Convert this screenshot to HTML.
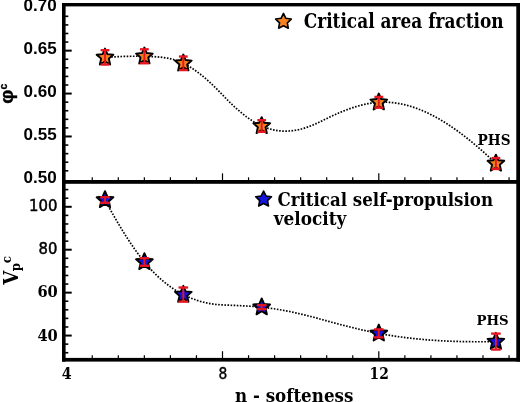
<!DOCTYPE html>
<html lang="en"><head><meta charset="utf-8"><title>Critical area fraction and self-propulsion velocity vs softness</title>
<style>html,body{margin:0;padding:0;background:#fff;}body{width:520px;height:402px;overflow:hidden;}svg{display:block;filter:blur(0.35px);}.ss{font-family:"Liberation Sans",sans-serif;font-weight:bold;}.dj{font-family:"DejaVu Sans","Liberation Sans",sans-serif;}.sf{font-family:"DejaVu Serif Condensed","DejaVu Serif","Liberation Serif",serif;font-weight:bold;font-stretch:condensed;}</style></head><body>
<svg width="520" height="402" viewBox="0 0 520 402">
<rect width="520" height="402" fill="#fff"/>
<g fill="#000">
<rect x="62.0" y="3.0" width="3.60" height="358.60"/>
<rect x="516.3" y="3.0" width="5.70" height="358.60"/>
<rect x="62.0" y="3.0" width="458.0" height="3.40"/>
<rect x="62.0" y="180.0" width="458.0" height="3.80"/>
<rect x="62.0" y="357.9" width="458.0" height="3.70"/>
</g>
<g stroke="#000">
<line x1="65.1" x2="68.3" y1="170.82" y2="170.82" stroke-width="1.6"/>
<line x1="65.1" x2="68.3" y1="162.23" y2="162.23" stroke-width="1.6"/>
<line x1="65.1" x2="68.3" y1="153.65" y2="153.65" stroke-width="1.6"/>
<line x1="65.1" x2="68.3" y1="145.07" y2="145.07" stroke-width="1.6"/>
<line x1="65.1" x2="71.69999999999999" y1="136.48" y2="136.48" stroke-width="2.0"/>
<line x1="65.1" x2="68.3" y1="127.90" y2="127.90" stroke-width="1.6"/>
<line x1="65.1" x2="68.3" y1="119.32" y2="119.32" stroke-width="1.6"/>
<line x1="65.1" x2="68.3" y1="110.74" y2="110.74" stroke-width="1.6"/>
<line x1="65.1" x2="68.3" y1="102.15" y2="102.15" stroke-width="1.6"/>
<line x1="65.1" x2="71.69999999999999" y1="93.57" y2="93.57" stroke-width="2.0"/>
<line x1="65.1" x2="68.3" y1="84.99" y2="84.99" stroke-width="1.6"/>
<line x1="65.1" x2="68.3" y1="76.40" y2="76.40" stroke-width="1.6"/>
<line x1="65.1" x2="68.3" y1="67.82" y2="67.82" stroke-width="1.6"/>
<line x1="65.1" x2="68.3" y1="59.24" y2="59.24" stroke-width="1.6"/>
<line x1="65.1" x2="71.69999999999999" y1="50.66" y2="50.66" stroke-width="2.0"/>
<line x1="65.1" x2="68.3" y1="42.07" y2="42.07" stroke-width="1.6"/>
<line x1="65.1" x2="68.3" y1="33.49" y2="33.49" stroke-width="1.6"/>
<line x1="65.1" x2="68.3" y1="24.91" y2="24.91" stroke-width="1.6"/>
<line x1="65.1" x2="68.3" y1="16.32" y2="16.32" stroke-width="1.6"/>
<line x1="65.1" x2="68.3" y1="189.63" y2="189.63" stroke-width="1.6"/>
<line x1="65.1" x2="68.3" y1="198.22" y2="198.22" stroke-width="1.6"/>
<line x1="65.1" x2="71.69999999999999" y1="206.80" y2="206.80" stroke-width="2.0"/>
<line x1="65.1" x2="68.3" y1="215.38" y2="215.38" stroke-width="1.6"/>
<line x1="65.1" x2="68.3" y1="223.97" y2="223.97" stroke-width="1.6"/>
<line x1="65.1" x2="68.3" y1="232.55" y2="232.55" stroke-width="1.6"/>
<line x1="65.1" x2="68.3" y1="241.14" y2="241.14" stroke-width="1.6"/>
<line x1="65.1" x2="71.69999999999999" y1="249.72" y2="249.72" stroke-width="2.0"/>
<line x1="65.1" x2="68.3" y1="258.30" y2="258.30" stroke-width="1.6"/>
<line x1="65.1" x2="68.3" y1="266.89" y2="266.89" stroke-width="1.6"/>
<line x1="65.1" x2="68.3" y1="275.47" y2="275.47" stroke-width="1.6"/>
<line x1="65.1" x2="68.3" y1="284.06" y2="284.06" stroke-width="1.6"/>
<line x1="65.1" x2="71.69999999999999" y1="292.64" y2="292.64" stroke-width="2.0"/>
<line x1="65.1" x2="68.3" y1="301.22" y2="301.22" stroke-width="1.6"/>
<line x1="65.1" x2="68.3" y1="309.81" y2="309.81" stroke-width="1.6"/>
<line x1="65.1" x2="68.3" y1="318.39" y2="318.39" stroke-width="1.6"/>
<line x1="65.1" x2="68.3" y1="326.98" y2="326.98" stroke-width="1.6"/>
<line x1="65.1" x2="71.69999999999999" y1="335.56" y2="335.56" stroke-width="2.0"/>
<line x1="65.1" x2="68.3" y1="344.14" y2="344.14" stroke-width="1.6"/>
<line x1="65.1" x2="68.3" y1="352.73" y2="352.73" stroke-width="1.6"/>
</g>
<g stroke="#000" stroke-width="1.2">
<line x1="92.25" x2="92.25" y1="358.4" y2="355.20"/>
<line x1="92.25" x2="92.25" y1="180.5" y2="177.30"/>
<line x1="118.30" x2="118.30" y1="358.4" y2="355.20"/>
<line x1="118.30" x2="118.30" y1="180.5" y2="177.30"/>
<line x1="144.35" x2="144.35" y1="358.4" y2="355.20"/>
<line x1="144.35" x2="144.35" y1="180.5" y2="177.30"/>
<line x1="170.40" x2="170.40" y1="358.4" y2="355.20"/>
<line x1="170.40" x2="170.40" y1="180.5" y2="177.30"/>
<line x1="196.45" x2="196.45" y1="358.4" y2="355.20"/>
<line x1="196.45" x2="196.45" y1="180.5" y2="177.30"/>
<line x1="222.50" x2="222.50" y1="358.4" y2="351.20"/>
<line x1="222.50" x2="222.50" y1="180.5" y2="173.30"/>
<line x1="248.55" x2="248.55" y1="358.4" y2="355.20"/>
<line x1="248.55" x2="248.55" y1="180.5" y2="177.30"/>
<line x1="274.60" x2="274.60" y1="358.4" y2="355.20"/>
<line x1="274.60" x2="274.60" y1="180.5" y2="177.30"/>
<line x1="300.65" x2="300.65" y1="358.4" y2="355.20"/>
<line x1="300.65" x2="300.65" y1="180.5" y2="177.30"/>
<line x1="326.70" x2="326.70" y1="358.4" y2="355.20"/>
<line x1="326.70" x2="326.70" y1="180.5" y2="177.30"/>
<line x1="352.75" x2="352.75" y1="358.4" y2="355.20"/>
<line x1="352.75" x2="352.75" y1="180.5" y2="177.30"/>
<line x1="378.80" x2="378.80" y1="358.4" y2="351.20"/>
<line x1="378.80" x2="378.80" y1="180.5" y2="173.30"/>
<line x1="404.85" x2="404.85" y1="358.4" y2="355.20"/>
<line x1="404.85" x2="404.85" y1="180.5" y2="177.30"/>
<line x1="430.90" x2="430.90" y1="358.4" y2="355.20"/>
<line x1="430.90" x2="430.90" y1="180.5" y2="177.30"/>
<line x1="456.95" x2="456.95" y1="358.4" y2="355.20"/>
<line x1="456.95" x2="456.95" y1="180.5" y2="177.30"/>
<line x1="483.00" x2="483.00" y1="358.4" y2="355.20"/>
<line x1="483.00" x2="483.00" y1="180.5" y2="177.30"/>
<line x1="509.05" x2="509.05" y1="358.4" y2="355.20"/>
<line x1="509.05" x2="509.05" y1="180.5" y2="177.30"/>
</g>
<text class="ss" x="23.5" y="11.04" font-size="15.7" textLength="33.2" lengthAdjust="spacingAndGlyphs">0.70</text>
<text class="ss" x="23.5" y="53.95" font-size="15.7" textLength="33.2" lengthAdjust="spacingAndGlyphs">0.65</text>
<text class="ss" x="23.5" y="96.87" font-size="15.7" textLength="33.2" lengthAdjust="spacingAndGlyphs">0.60</text>
<text class="ss" x="23.5" y="139.78" font-size="15.7" textLength="33.2" lengthAdjust="spacingAndGlyphs">0.55</text>
<text class="ss" x="23.5" y="183.40" font-size="15.7" textLength="33.2" lengthAdjust="spacingAndGlyphs">0.50</text>
<text class="dj" x="29" y="211.2" font-size="15.6" textLength="28.4" lengthAdjust="spacingAndGlyphs" stroke="#000" stroke-width="0.5">100</text>
<text class="dj" x="38.6" y="254.4" font-size="15.6" textLength="18.8" lengthAdjust="spacingAndGlyphs" stroke="#000" stroke-width="0.5">80</text>
<text class="sf" x="37.4" y="297.4" font-size="16.4" textLength="20.4" lengthAdjust="spacingAndGlyphs">60</text>
<text class="sf" x="37.4" y="340.6" font-size="16.4" textLength="20.4" lengthAdjust="spacingAndGlyphs">40</text>
<text class="sf" x="61.7" y="378.8" font-size="15.8" textLength="9.9" lengthAdjust="spacingAndGlyphs">4</text>
<text class="dj" x="218.6" y="378.5" font-size="15.6" textLength="8.8" lengthAdjust="spacingAndGlyphs" stroke="#000" stroke-width="0.4">8</text>
<text class="sf" x="369.6" y="378.6" font-size="16" textLength="19.3" lengthAdjust="spacingAndGlyphs">12</text>
<text class="sf" x="235" y="401.7" font-size="18.8" textLength="118.3" lengthAdjust="spacingAndGlyphs">n - softeness</text>
<text class="ss" transform="translate(12.8,103.8) rotate(-90) scale(1.12,1)" font-size="17.5" stroke="#000" stroke-width="0.4">φ</text>
<text class="ss" transform="translate(6.8,89.6) rotate(-90)" font-size="10.4" stroke="#000" stroke-width="0.35">c</text>
<text class="sf" transform="translate(18.0,284.8) rotate(-90)" font-size="20"><tspan>V</tspan><tspan dy="2" dx="-0.5" font-size="13">p</tspan><tspan dy="-8.7" font-size="13.4">c</tspan></text>
<path d="M105.00,57.40 L108.28,57.18 L111.57,56.98 L114.85,56.80 L118.14,56.65 L121.42,56.51 L124.71,56.41 L127.99,56.32 L131.28,56.26 L134.56,56.23 L137.85,56.22 L141.13,56.25 L144.42,56.30 L147.70,56.38 L150.99,56.51 L154.27,56.68 L157.56,56.92 L160.84,57.22 L164.13,57.61 L167.41,58.13 L170.70,58.82 L173.98,59.70 L177.27,60.78 L180.55,62.06 L183.84,63.56 L187.12,65.28 L190.41,67.21 L193.69,69.34 L196.98,71.65 L200.26,74.15 L203.55,76.81 L206.83,79.63 L210.12,82.60 L213.40,85.70 L216.69,88.92 L219.97,92.25 L223.26,95.68 L226.54,99.07 L229.83,102.34 L233.11,105.49 L236.39,108.50 L239.68,111.37 L242.96,114.08 L246.25,116.62 L249.53,118.99 L252.82,121.16 L256.10,123.13 L259.39,124.89 L262.67,126.43 L265.96,127.74 L269.24,128.83 L272.53,129.70 L275.81,130.36 L279.10,130.82 L282.38,131.07 L285.67,131.14 L288.95,131.02 L292.24,130.72 L295.52,130.24 L298.81,129.60 L302.09,128.79 L305.38,127.83 L308.66,126.72 L311.95,125.47 L315.23,124.08 L318.52,122.55 L321.80,120.92 L325.09,119.30 L328.37,117.72 L331.66,116.17 L334.94,114.68 L338.23,113.23 L341.51,111.85 L344.80,110.54 L348.08,109.30 L351.37,108.13 L354.65,107.05 L357.94,106.06 L361.22,105.17 L364.51,104.38 L367.79,103.70 L371.07,103.14 L374.36,102.70 L377.64,102.38 L380.93,102.20 L384.21,102.15 L387.50,102.23 L390.78,102.44 L394.07,102.78 L397.35,103.24 L400.64,103.83 L403.92,104.54 L407.21,105.36 L410.49,106.30 L413.78,107.35 L417.06,108.51 L420.35,109.78 L423.63,111.16 L426.92,112.64 L430.20,114.22 L433.49,115.90 L436.77,117.68 L440.06,119.55 L443.34,121.51 L446.63,123.57 L449.91,125.71 L453.20,127.93 L456.48,130.24 L459.77,132.62 L463.05,135.09 L466.34,137.63 L469.62,140.24 L472.91,142.93 L476.19,145.68 L479.48,148.50 L482.76,151.38 L486.05,154.32 L489.33,157.33 L492.62,160.39 L495.90,163.50" fill="none" stroke="#000" stroke-width="1.7" stroke-dasharray="1.6 1.5"/>
<path d="M105.00,200.00 L108.28,206.01 L111.57,211.90 L114.85,217.67 L118.14,223.30 L121.42,228.77 L124.71,234.09 L127.99,239.24 L131.28,244.20 L134.56,248.98 L137.85,253.54 L141.13,257.90 L144.42,262.02 L147.70,265.91 L150.99,269.57 L154.27,273.00 L157.56,276.21 L160.84,279.20 L164.13,281.97 L167.41,284.55 L170.70,286.95 L173.98,289.18 L177.27,291.24 L180.55,293.14 L183.84,294.87 L187.12,296.46 L190.41,297.89 L193.69,299.18 L196.98,300.32 L200.26,301.33 L203.55,302.21 L206.83,302.95 L210.12,303.58 L213.40,304.08 L216.69,304.47 L219.97,304.76 L223.26,304.93 L226.54,305.07 L229.83,305.21 L233.11,305.35 L236.39,305.49 L239.68,305.64 L242.96,305.80 L246.25,305.98 L249.53,306.18 L252.82,306.41 L256.10,306.67 L259.39,306.97 L262.67,307.30 L265.96,307.68 L269.24,308.10 L272.53,308.56 L275.81,309.06 L279.10,309.60 L282.38,310.18 L285.67,310.79 L288.95,311.43 L292.24,312.11 L295.52,312.82 L298.81,313.56 L302.09,314.33 L305.38,315.13 L308.66,315.96 L311.95,316.81 L315.23,317.68 L318.52,318.58 L321.80,319.50 L325.09,320.41 L328.37,321.32 L331.66,322.22 L334.94,323.11 L338.23,323.99 L341.51,324.85 L344.80,325.70 L348.08,326.54 L351.37,327.36 L354.65,328.16 L357.94,328.94 L361.22,329.71 L364.51,330.45 L367.79,331.17 L371.07,331.86 L374.36,332.53 L377.64,333.18 L380.93,333.80 L384.21,334.39 L387.50,334.95 L390.78,335.49 L394.07,336.00 L397.35,336.49 L400.64,336.95 L403.92,337.38 L407.21,337.79 L410.49,338.18 L413.78,338.55 L417.06,338.89 L420.35,339.21 L423.63,339.51 L426.92,339.79 L430.20,340.05 L433.49,340.28 L436.77,340.50 L440.06,340.70 L443.34,340.88 L446.63,341.04 L449.91,341.18 L453.20,341.31 L456.48,341.42 L459.77,341.51 L463.05,341.59 L466.34,341.65 L469.62,341.70 L472.91,341.73 L476.19,341.75 L479.48,341.76 L482.76,341.75 L486.05,341.73 L489.33,341.70 L492.62,341.65 L495.90,341.60" fill="none" stroke="#000" stroke-width="1.7" stroke-dasharray="1.6 1.5"/>
<path d="M105.00,48.60 L107.38,54.13 L113.37,54.68 L108.85,58.65 L110.17,64.52 L105.00,61.45 L99.83,64.52 L101.15,58.65 L96.63,54.68 L102.62,54.13Z" fill="#f58220" stroke="#000" stroke-width="1.9" stroke-linejoin="round"/>
<g stroke="#e8141e" stroke-width="1.9" fill="none"><line x1="105.00" x2="105.00" y1="50.20" y2="64.60"/><line x1="100.60" x2="109.40" y1="50.20" y2="50.20" stroke-width="2.3"/><line x1="100.60" x2="109.40" y1="64.60" y2="64.60" stroke-width="2.3"/></g>
<path d="M144.40,47.50 L146.78,53.03 L152.77,53.58 L148.25,57.55 L149.57,63.42 L144.40,60.35 L139.23,63.42 L140.55,57.55 L136.03,53.58 L142.02,53.03Z" fill="#f58220" stroke="#000" stroke-width="1.9" stroke-linejoin="round"/>
<g stroke="#e8141e" stroke-width="1.9" fill="none"><line x1="144.40" x2="144.40" y1="49.30" y2="63.30"/><line x1="140.00" x2="148.80" y1="49.30" y2="49.30" stroke-width="2.3"/><line x1="140.00" x2="148.80" y1="63.30" y2="63.30" stroke-width="2.3"/></g>
<path d="M183.30,54.50 L185.68,60.03 L191.67,60.58 L187.15,64.55 L188.47,70.42 L183.30,67.35 L178.13,70.42 L179.45,64.55 L174.93,60.58 L180.92,60.03Z" fill="#f58220" stroke="#000" stroke-width="1.9" stroke-linejoin="round"/>
<g stroke="#e8141e" stroke-width="1.9" fill="none"><line x1="183.30" x2="183.30" y1="56.50" y2="70.10"/><line x1="178.90" x2="187.70" y1="56.50" y2="56.50" stroke-width="2.3"/><line x1="178.90" x2="187.70" y1="70.10" y2="70.10" stroke-width="2.3"/></g>
<path d="M261.70,117.20 L264.08,122.73 L270.07,123.28 L265.55,127.25 L266.87,133.12 L261.70,130.05 L256.53,133.12 L257.85,127.25 L253.33,123.28 L259.32,122.73Z" fill="#f58220" stroke="#000" stroke-width="1.9" stroke-linejoin="round"/>
<g stroke="#e8141e" stroke-width="1.9" fill="none"><line x1="261.70" x2="261.70" y1="120.20" y2="131.80"/><line x1="257.30" x2="266.10" y1="120.20" y2="120.20" stroke-width="2.3"/><line x1="257.30" x2="266.10" y1="131.80" y2="131.80" stroke-width="2.3"/></g>
<path d="M378.80,93.50 L381.18,99.03 L387.17,99.58 L382.65,103.55 L383.97,109.42 L378.80,106.35 L373.63,109.42 L374.95,103.55 L370.43,99.58 L376.42,99.03Z" fill="#f58220" stroke="#000" stroke-width="1.9" stroke-linejoin="round"/>
<g stroke="#e8141e" stroke-width="1.9" fill="none"><line x1="378.80" x2="378.80" y1="96.90" y2="107.70"/><line x1="374.40" x2="383.20" y1="96.90" y2="96.90" stroke-width="2.3"/><line x1="374.40" x2="383.20" y1="107.70" y2="107.70" stroke-width="2.3"/></g>
<path d="M495.90,154.70 L498.28,160.23 L504.27,160.78 L499.75,164.75 L501.07,170.62 L495.90,167.55 L490.73,170.62 L492.05,164.75 L487.53,160.78 L493.52,160.23Z" fill="#f58220" stroke="#000" stroke-width="1.9" stroke-linejoin="round"/>
<g stroke="#e8141e" stroke-width="1.9" fill="none"><line x1="495.90" x2="495.90" y1="158.00" y2="169.00"/><line x1="491.50" x2="500.30" y1="158.00" y2="158.00" stroke-width="2.3"/><line x1="491.50" x2="500.30" y1="169.00" y2="169.00" stroke-width="2.3"/></g>
<path d="M105.00,191.20 L107.38,196.73 L113.37,197.28 L108.85,201.25 L110.17,207.12 L105.00,204.05 L99.83,207.12 L101.15,201.25 L96.63,197.28 L102.62,196.73Z" fill="#1414dc" stroke="#000" stroke-width="1.9" stroke-linejoin="round"/>
<g stroke="#e8141e" stroke-width="1.9" fill="none"><line x1="105.00" x2="105.00" y1="197.20" y2="202.80"/><line x1="100.20" x2="109.80" y1="197.20" y2="197.20" stroke-width="2.3"/><line x1="100.20" x2="109.80" y1="202.80" y2="202.80" stroke-width="2.3"/></g>
<path d="M144.40,253.20 L146.78,258.73 L152.77,259.28 L148.25,263.25 L149.57,269.12 L144.40,266.05 L139.23,269.12 L140.55,263.25 L136.03,259.28 L142.02,258.73Z" fill="#1414dc" stroke="#000" stroke-width="1.9" stroke-linejoin="round"/>
<g stroke="#e8141e" stroke-width="1.9" fill="none"><line x1="144.40" x2="144.40" y1="258.20" y2="265.80"/><line x1="139.60" x2="149.20" y1="258.20" y2="258.20" stroke-width="2.3"/><line x1="139.60" x2="149.20" y1="265.80" y2="265.80" stroke-width="2.3"/></g>
<path d="M183.30,285.80 L185.68,291.33 L191.67,291.88 L187.15,295.85 L188.47,301.72 L183.30,298.65 L178.13,301.72 L179.45,295.85 L174.93,291.88 L180.92,291.33Z" fill="#1414dc" stroke="#000" stroke-width="1.9" stroke-linejoin="round"/>
<g stroke="#e8141e" stroke-width="1.9" fill="none"><line x1="183.30" x2="183.30" y1="287.50" y2="301.70"/><line x1="178.50" x2="188.10" y1="287.50" y2="287.50" stroke-width="2.3"/><line x1="178.50" x2="188.10" y1="301.70" y2="301.70" stroke-width="2.3"/></g>
<path d="M261.70,298.40 L264.08,303.93 L270.07,304.48 L265.55,308.45 L266.87,314.32 L261.70,311.25 L256.53,314.32 L257.85,308.45 L253.33,304.48 L259.32,303.93Z" fill="#1414dc" stroke="#000" stroke-width="1.9" stroke-linejoin="round"/>
<g stroke="#e8141e" stroke-width="1.9" fill="none"><line x1="261.70" x2="261.70" y1="305.20" y2="309.20"/><line x1="256.90" x2="266.50" y1="305.20" y2="305.20" stroke-width="2.3"/><line x1="256.90" x2="266.50" y1="309.20" y2="309.20" stroke-width="2.3"/></g>
<path d="M378.80,324.60 L381.18,330.13 L387.17,330.68 L382.65,334.65 L383.97,340.52 L378.80,337.45 L373.63,340.52 L374.95,334.65 L370.43,330.68 L376.42,330.13Z" fill="#1414dc" stroke="#000" stroke-width="1.9" stroke-linejoin="round"/>
<g stroke="#e8141e" stroke-width="1.9" fill="none"><line x1="378.80" x2="378.80" y1="329.40" y2="337.40"/><line x1="374.00" x2="383.60" y1="329.40" y2="329.40" stroke-width="2.3"/><line x1="374.00" x2="383.60" y1="337.40" y2="337.40" stroke-width="2.3"/></g>
<path d="M495.90,332.80 L498.28,338.33 L504.27,338.88 L499.75,342.85 L501.07,348.72 L495.90,345.65 L490.73,348.72 L492.05,342.85 L487.53,338.88 L493.52,338.33Z" fill="#1414dc" stroke="#000" stroke-width="1.9" stroke-linejoin="round"/>
<g stroke="#e8141e" stroke-width="1.9" fill="none"><line x1="495.90" x2="495.90" y1="333.60" y2="349.60"/><line x1="491.10" x2="500.70" y1="333.60" y2="333.60" stroke-width="2.3"/><line x1="491.10" x2="500.70" y1="349.60" y2="349.60" stroke-width="2.3"/></g>
<text class="sf" x="477.6" y="145.2" font-size="14.3" textLength="33" lengthAdjust="spacingAndGlyphs">PHS</text>
<text class="sf" x="476.4" y="324.6" font-size="13.8" textLength="32.2" lengthAdjust="spacingAndGlyphs">PHS</text>
<path d="M283.45,13.40 L285.86,18.28 L291.25,19.07 L287.35,22.87 L288.27,28.23 L283.45,25.70 L278.63,28.23 L279.55,22.87 L275.65,19.07 L281.04,18.28Z" fill="#f58220" stroke="#000" stroke-width="1.6" stroke-linejoin="round"/>
<text class="sf" x="303.7" y="28" font-size="19.5" textLength="200" lengthAdjust="spacingAndGlyphs">Critical area fraction</text>
<path d="M263.60,191.00 L266.04,195.94 L271.49,196.74 L267.55,200.58 L268.48,206.01 L263.60,203.45 L258.72,206.01 L259.65,200.58 L255.71,196.74 L261.16,195.94Z" fill="#1414dc" stroke="#000" stroke-width="1.6" stroke-linejoin="round"/>
<text class="sf" x="277.5" y="205.5" font-size="18.6" textLength="215.5" lengthAdjust="spacingAndGlyphs">Critical self-propulsion</text>
<text class="sf" x="273.8" y="225" font-size="18.6" textLength="72.5" lengthAdjust="spacingAndGlyphs">velocity</text>
</svg></body></html>
